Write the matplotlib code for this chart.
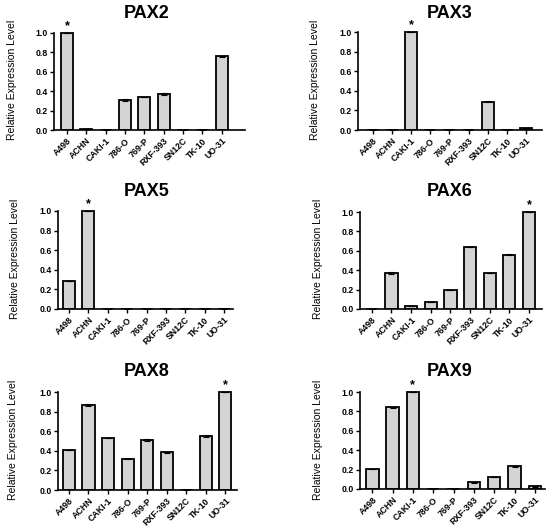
import matplotlib
matplotlib.use("Agg")
import matplotlib.pyplot as plt
import numpy as np

plt.rcParams['font.family'] = ['Liberation Sans', 'DejaVu Sans']

cell_lines = ["A498", "ACHN", "CAKI-1", "786-O", "769-P", "RXF-393", "SN12C", "TK-10", "UO-31"]

pax2 = [1.0, 0.006, 0.0, 0.31, 0.345, 0.37, 0.0, 0.0, 0.76]
pax3 = [0.0, 0.0, 1.0, 0.0, 0.0, 0.0, 0.29, 0.0, 0.02]
pax5 = [0.29, 1.0, 0.0, 0.0, 0.0, 0.0, 0.0, 0.0, 0.0]
pax6 = [0.0, 0.37, 0.03, 0.07, 0.195, 0.64, 0.37, 0.56, 1.0]
pax8 = [0.41, 0.87, 0.535, 0.32, 0.515, 0.385, 0.0, 0.55, 1.0]
pax9 = [0.21, 0.845, 1.0, 0.0, 0.0, 0.07, 0.12, 0.235, 0.03]

pax2_err = [0.0, 0.0, 0.0, 0.01, 0.0, 0.01, 0.0, 0.0, 0.005]
pax3_err = [0.0, 0.0, 0.0, 0.0, 0.0, 0.0, 0.005, 0.0, 0.0]
pax5_err = [0.0, 0.0, 0.0, 0.0, 0.0, 0.0, 0.0, 0.0, 0.0]
pax6_err = [0.0, 0.01, 0.0, 0.0, 0.0, 0.0, 0.0, 0.005, 0.0]
pax8_err = [0.0, 0.01, 0.0, 0.005, 0.01, 0.005, 0.0, 0.01, 0.0]
pax9_err = [0.0, 0.005, 0.0, 0.0, 0.0, 0.005, 0.0, 0.005, 0.005]

titles = ["PAX2", "PAX3", "PAX5", "PAX6", "PAX8", "PAX9"]
values = [pax2, pax3, pax5, pax6, pax8, pax9]
errors = [pax2_err, pax3_err, pax5_err, pax6_err, pax8_err, pax9_err]
star_index = [0, 2, 1, 8, 8, 2]

W, H = 550, 528
fig = plt.figure(figsize=(5.5, 5.28), dpi=100)

# layout in pixels: (yaxis_x, y_at_1, y_at_0, xaxis_end, xlim_left, xlim_right, title_xy, ylabel_xy)
layout = [
    (54, 33, 130, 245, -0.67, 9.2, (147, 13), (12, 80)),
    (358, 32, 130, 542, -0.76, 8.83, (450, 13), (315, 80)),
    (58, 211, 309, 233, -0.57, 8.46, (147, 191), (15, 259)),
    (360, 212, 309, 542, -0.6, 8.66, (450, 191), (318, 259)),
    (58, 392, 490, 237, -0.56, 8.6, (147, 372), (13, 440)),
    (360, 392, 489, 545, -0.6, 8.5, (450, 372), (318, 440)),
]

ytop = 1.02
for i, (x0, y1, y0, xe, xl, xr, tpos, lpos) in enumerate(layout):
    unit = (y0 - y1)
    hpx = unit * ytop
    ax = fig.add_axes([x0 / W, 1 - y0 / H, (xe - x0) / W, hpx / H])
    x = np.arange(len(cell_lines))
    ax.bar(x, values[i], width=0.62, color="#d4d4d4", edgecolor="black", linewidth=1.3,
           yerr=errors[i], error_kw=dict(ecolor="black", elinewidth=0.8, capsize=2, capthick=0.8))
    ax.set_xlim(xl, xr)
    ax.set_ylim(0, ytop)
    for s in ["top", "right"]:
        ax.spines[s].set_visible(False)
    for s in ["left", "bottom"]:
        ax.spines[s].set_linewidth(1.2)
    ax.spines["left"].set_bounds(0, 1.0)
    ax.set_yticks(np.arange(0, 1.01, 0.2))
    ax.set_yticklabels([f"{v:.1f}" for v in np.arange(0, 1.01, 0.2)], fontsize=6.3, fontweight="bold")
    ax.set_xticks(x)
    ax.set_xticklabels(cell_lines, rotation=45, ha="right", rotation_mode="anchor",
                       fontsize=6.3, fontweight="bold")
    ax.tick_params(axis="both", direction="out", length=3, width=1.0, pad=1.5)
    si = star_index[i]
    ax.text(si, values[i][si] + 0.01, "*", ha="center", va="bottom", fontsize=9,
            fontweight="bold", clip_on=False)
    fig.text(tpos[0] / W, 1 - tpos[1] / H, titles[i], ha="center", va="center",
             fontsize=13, fontweight="bold")
    fig.text(lpos[0] / W, 1 - lpos[1] / H, "Relative Expression Level", ha="center",
             va="center", rotation=90, fontsize=7.5)

fig.savefig("out.png", dpi=100)
